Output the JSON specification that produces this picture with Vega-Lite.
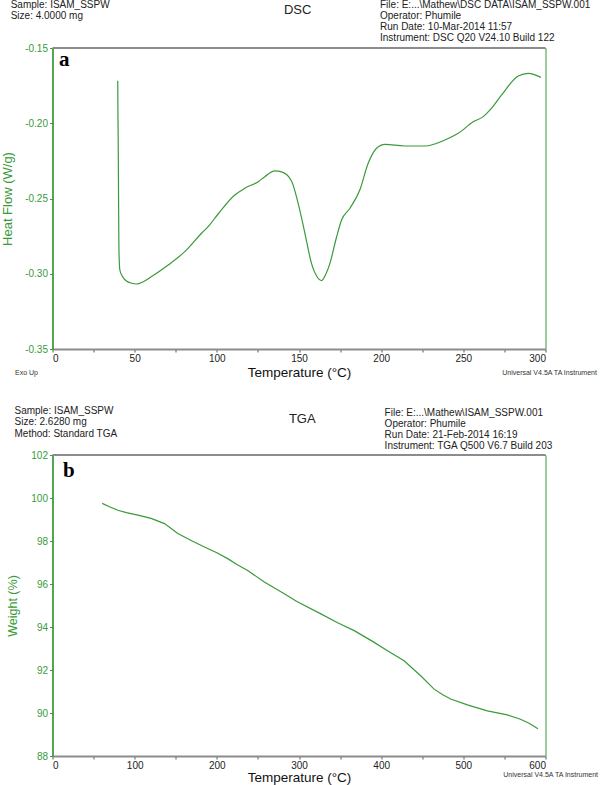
{
  "$schema": "https://vega.github.io/schema/vega-lite/v6.json",
  "autosize": {"type": "none"},
  "padding": {"left": 52.5, "top": 48, "right": 547.5, "bottom": 737},
  "background": "white",
  "bounds": "flush",
  "spacing": 106,
  "config": {
    "font": "Liberation Sans",
    "view": {"stroke": "#3a9a3a", "strokeWidth": 1},
    "axis": {"grid": false, "labelFont": "Liberation Sans", "titleFont": "Liberation Sans", "titleFontWeight": "normal", "labelOverlap": false, "zindex": 1}
  },
  "datasets": {
    "dsc": [
      {"T": 39.7, "HF": -0.1717}, {"T": 39.8, "HF": -0.19}, {"T": 40.0, "HF": -0.215},
      {"T": 40.1, "HF": -0.232}, {"T": 40.2, "HF": -0.25}, {"T": 40.3, "HF": -0.268},
      {"T": 40.4, "HF": -0.2805}, {"T": 40.6, "HF": -0.2909}, {"T": 41.0, "HF": -0.2975},
      {"T": 42.4, "HF": -0.3015}, {"T": 45.0, "HF": -0.3048}, {"T": 48.1, "HF": -0.3063},
      {"T": 51.1, "HF": -0.3068}, {"T": 55.2, "HF": -0.3053}, {"T": 60.3, "HF": -0.3019},
      {"T": 70.4, "HF": -0.2942}, {"T": 80.5, "HF": -0.2853}, {"T": 90.7, "HF": -0.2731},
      {"T": 94.7, "HF": -0.2687}, {"T": 100.8, "HF": -0.2603}, {"T": 110.9, "HF": -0.2477},
      {"T": 117.0, "HF": -0.2432}, {"T": 125.2, "HF": -0.2388}, {"T": 129.2, "HF": -0.2355},
      {"T": 135.3, "HF": -0.2317}, {"T": 139.8, "HF": -0.2325}, {"T": 145.5, "HF": -0.2385},
      {"T": 149.5, "HF": -0.2532}, {"T": 153.6, "HF": -0.2731}, {"T": 157.6, "HF": -0.2931},
      {"T": 161.0, "HF": -0.3020}, {"T": 163.7, "HF": -0.3045}, {"T": 166.0, "HF": -0.3010},
      {"T": 168.8, "HF": -0.2931}, {"T": 172.9, "HF": -0.2754}, {"T": 175.9, "HF": -0.2643},
      {"T": 181.0, "HF": -0.2565}, {"T": 187.0, "HF": -0.2444}, {"T": 192.1, "HF": -0.2266},
      {"T": 197.2, "HF": -0.2166}, {"T": 202.3, "HF": -0.214}, {"T": 214.4, "HF": -0.2151},
      {"T": 226.6, "HF": -0.2151}, {"T": 238.8, "HF": -0.2111}, {"T": 246.9, "HF": -0.2067},
      {"T": 256.0, "HF": -0.199}, {"T": 262.1, "HF": -0.1956}, {"T": 267.2, "HF": -0.19},
      {"T": 273.3, "HF": -0.1812}, {"T": 283.4, "HF": -0.1686}, {"T": 289.5, "HF": -0.1668},
      {"T": 297.2, "HF": -0.1695}
    ],
    "tga": [
      {"T": 60.5, "W": 99.75}, {"T": 70, "W": 99.58}, {"T": 79.6, "W": 99.43},
      {"T": 90, "W": 99.32}, {"T": 103.9, "W": 99.2}, {"T": 120, "W": 99.05},
      {"T": 136.3, "W": 98.81}, {"T": 152.5, "W": 98.35}, {"T": 170, "W": 98.0},
      {"T": 184.9, "W": 97.72}, {"T": 200, "W": 97.45}, {"T": 213.2, "W": 97.18},
      {"T": 225, "W": 96.9}, {"T": 237.5, "W": 96.63}, {"T": 257.8, "W": 96.09},
      {"T": 282.1, "W": 95.55}, {"T": 297.4, "W": 95.19}, {"T": 326.6, "W": 94.61},
      {"T": 347, "W": 94.2}, {"T": 367.2, "W": 93.83}, {"T": 390, "W": 93.32},
      {"T": 407.7, "W": 92.9}, {"T": 427.9, "W": 92.43}, {"T": 448.1, "W": 91.73},
      {"T": 464.4, "W": 91.11}, {"T": 475, "W": 90.85}, {"T": 484.6, "W": 90.65},
      {"T": 504.9, "W": 90.38}, {"T": 529.2, "W": 90.1}, {"T": 553.5, "W": 89.91},
      {"T": 569.6, "W": 89.71}, {"T": 580, "W": 89.52}, {"T": 590.8, "W": 89.27}
    ]
  },
  "vconcat": [
    {
      "width": 493,
      "height": 301,
      "layer": [
        {
          "data": {"name": "dsc"},
          "mark": {"type": "line", "color": "#3a9a3a", "strokeWidth": 1.2, "interpolate": "monotone"},
          "encoding": {
            "x": {
              "field": "T", "type": "quantitative",
              "scale": {"domain": [0, 300], "nice": false, "zero": false},
              "axis": {
                "title": "Temperature (°C)",
                "values": [0, 12.5, 25, 37.5, 50, 62.5, 75, 87.5, 100, 112.5, 125, 137.5, 150, 162.5, 175, 187.5, 200, 212.5, 225, 237.5, 250, 262.5, 275, 287.5, 300],
                "labelExpr": "datum.value % 50 === 0 ? format(datum.value, 'd') : ''",
                "domainColor": "#8c8c8c", "domainWidth": 2,
                "tickColor": "#555555", "tickSize": 3,
                "labelColor": "#222222", "labelFontSize": 10, "labelPadding": 1,
                "titleColor": "#111111", "titleFontSize": 13.5, "titlePadding": 2
              }
            },
            "y": {
              "field": "HF", "type": "quantitative",
              "scale": {"domain": [-0.35, -0.15], "nice": false, "zero": false},
              "axis": {
                "title": "Heat Flow (W/g)",
                "values": [-0.35, -0.3375, -0.325, -0.3125, -0.3, -0.2875, -0.275, -0.2625, -0.25, -0.2375, -0.225, -0.2125, -0.2, -0.1875, -0.175, -0.1625, -0.15],
                "labelExpr": "abs(datum.value * 20 - round(datum.value * 20)) < 0.001 ? replace(format(datum.value, '.2f'), '\u2212', '-') : ''",
                "domainColor": "#3a9a3a", "domainWidth": 1.5,
                "tickColor": "#3a9a3a", "tickSize": 3,
                "labelColor": "#3a9a3a", "labelFontSize": 10, "labelPadding": 2,
                "titleColor": "#3a9a3a", "titleFontSize": 13, "titlePadding": 10
              }
            }
          }
        },
        {
          "data": {"values": [{}]},
          "mark": {"type": "rule", "color": "#8c8c8c", "strokeWidth": 2},
          "encoding": {"y": {"datum": -0.15}}
        },
        {
          "data": {"values": [{}]},
          "mark": {"type": "text", "text": ["Sample: ISAM_SSPW", "Size:  4.0000 mg"], "align": "left", "baseline": "alphabetic", "fontSize": 10, "lineHeight": 11.5, "color": "#222222"},
          "encoding": {"x": {"datum": -25.44}, "y": {"datum": -0.12342}}
        },
        {
          "data": {"values": [{}]},
          "mark": {"type": "text", "text": "DSC", "align": "center", "baseline": "middle", "fontSize": 13, "color": "#222222"},
          "encoding": {"x": {"datum": 149.2}, "y": {"datum": -0.12508}}
        },
        {
          "data": {"values": [{}]},
          "mark": {"type": "text", "text": ["File: E:...\\Mathew\\DSC DATA\\ISAM_SSPW.001", "Operator: Phumile", "Run Date: 10-Mar-2014 11:57", "Instrument: DSC Q20 V24.10 Build 122"], "align": "left", "baseline": "alphabetic", "fontSize": 10, "lineHeight": 11, "color": "#222222"},
          "encoding": {"x": {"datum": 199.3}, "y": {"datum": -0.12375}}
        },
        {
          "data": {"values": [{}]},
          "mark": {"type": "text", "text": "a", "align": "left", "baseline": "alphabetic", "font": "Liberation Serif", "fontWeight": "bold", "fontSize": 21, "color": "#000000"},
          "encoding": {"x": {"datum": 3.96}, "y": {"datum": -0.16196}}
        },
        {
          "data": {"values": [{}]},
          "mark": {"type": "text", "text": "Exo Up", "align": "left", "baseline": "middle", "fontSize": 7, "color": "#333333"},
          "encoding": {"x": {"datum": -22.8}, "y": {"datum": -0.36595}}
        },
        {
          "data": {"values": [{}]},
          "mark": {"type": "text", "text": "Universal V4.5A TA Instrument", "align": "right", "baseline": "middle", "fontSize": 7, "color": "#333333"},
          "encoding": {"x": {"datum": 331.3}, "y": {"datum": -0.36595}}
        }
      ]
    },
    {
      "width": 493,
      "height": 301,
      "layer": [
        {
          "data": {"name": "tga"},
          "mark": {"type": "line", "color": "#3a9a3a", "strokeWidth": 1.2},
          "encoding": {
            "x": {
              "field": "T", "type": "quantitative",
              "scale": {"domain": [0, 600], "nice": false, "zero": false},
              "axis": {
                "title": "Temperature (°C)",
                "values": [0, 25, 50, 75, 100, 125, 150, 175, 200, 225, 250, 275, 300, 325, 350, 375, 400, 425, 450, 475, 500, 525, 550, 575, 600],
                "labelExpr": "datum.value % 100 === 0 ? format(datum.value, 'd') : ''",
                "domainColor": "#8c8c8c", "domainWidth": 2,
                "tickColor": "#555555", "tickSize": 3,
                "labelColor": "#222222", "labelFontSize": 10, "labelPadding": 1,
                "titleColor": "#111111", "titleFontSize": 13.5, "titlePadding": 0
              }
            },
            "y": {
              "field": "W", "type": "quantitative",
              "scale": {"domain": [88, 102], "nice": false, "zero": false},
              "axis": {
                "title": "Weight (%)",
                "values": [88, 88.5, 89, 89.5, 90, 90.5, 91, 91.5, 92, 92.5, 93, 93.5, 94, 94.5, 95, 95.5, 96, 96.5, 97, 97.5, 98, 98.5, 99, 99.5, 100, 100.5, 101, 101.5, 102],
                "labelExpr": "datum.value % 2 === 0 ? format(datum.value, 'd') : ''",
                "domainColor": "#3a9a3a", "domainWidth": 1.5,
                "tickColor": "#3a9a3a", "tickSize": 3,
                "labelColor": "#3a9a3a", "labelFontSize": 10, "labelPadding": 2,
                "titleColor": "#3a9a3a", "titleFontSize": 12.5, "titlePadding": 11
              }
            }
          }
        },
        {
          "data": {"values": [{}]},
          "mark": {"type": "rule", "color": "#8c8c8c", "strokeWidth": 2},
          "encoding": {"y": {"datum": 102}}
        },
        {
          "data": {"values": [{}]},
          "mark": {"type": "text", "text": ["Sample: ISAM_SSPW", "Size:  2.6280 mg", "Method: Standard TGA"], "align": "left", "baseline": "alphabetic", "fontSize": 10, "lineHeight": 11.5, "color": "#222222"},
          "encoding": {"x": {"datum": -46.25}, "y": {"datum": 103.907}}
        },
        {
          "data": {"values": [{}]},
          "mark": {"type": "text", "text": "TGA", "align": "center", "baseline": "middle", "fontSize": 13, "color": "#222222"},
          "encoding": {"x": {"datum": 304.0}, "y": {"datum": 103.688}}
        },
        {
          "data": {"values": [{}]},
          "mark": {"type": "text", "text": ["File: E:...\\Mathew\\ISAM_SSPW.001", "Operator: Phumile", "Run Date: 21-Feb-2014 16:19", "Instrument: TGA Q500 V6.7 Build 203"], "align": "left", "baseline": "alphabetic", "fontSize": 10, "lineHeight": 11.2, "color": "#222222"},
          "encoding": {"x": {"datum": 404.2}, "y": {"datum": 103.837}}
        },
        {
          "data": {"values": [{}]},
          "mark": {"type": "text", "text": "b", "align": "left", "baseline": "alphabetic", "font": "Liberation Serif", "fontWeight": "bold", "fontSize": 21, "color": "#000000"},
          "encoding": {"x": {"datum": 12.78}, "y": {"datum": 100.977}}
        },
        {
          "data": {"values": [{}]},
          "mark": {"type": "text", "text": "Universal V4.5A TA Instrument", "align": "right", "baseline": "middle", "fontSize": 7, "color": "#333333"},
          "encoding": {"x": {"datum": 663.9}, "y": {"datum": 87.116}}
        }
      ]
    }
  ]
}
